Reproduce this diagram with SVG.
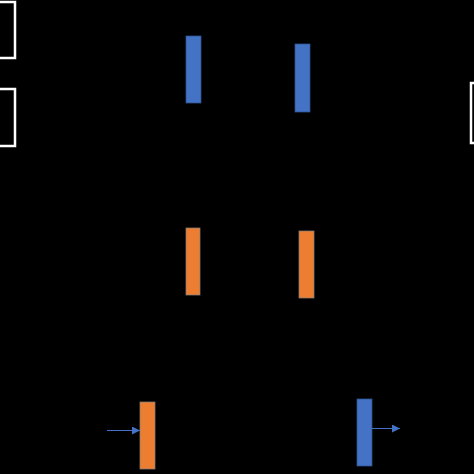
<svg xmlns="http://www.w3.org/2000/svg" width="474" height="474" viewBox="0 0 474 474">
<style>
.blue{fill:#4472C4;stroke:#2F528F;stroke-width:0.75}
.orange{fill:#ED7D31;stroke:#7f7f7f;stroke-width:0.75}
.frame{fill:none;stroke:#ffffff;stroke-width:2.5}
.conn{stroke:#4472C4;stroke-width:1;fill:none}
</style>
<defs>
<marker id="arr" viewBox="0 0 10 10" refX="10" refY="5" markerWidth="8" markerHeight="8" markerUnits="userSpaceOnUse" orient="auto">
<path d="M0,0 L10,5 L0,10 z" fill="#4472C4"/>
</marker>
</defs>
<rect width="474" height="474" fill="#000000"/>
<g id="frame-top-left"><rect class="frame" x="-10" y="2" width="25" height="56"/></g>
<g id="frame-mid-left"><rect class="frame" x="-10" y="89" width="25" height="57"/></g>
<g id="frame-right"><rect class="frame" x="471" y="83" width="20" height="60"/></g>
<g id="blue1"><rect class="blue" x="186" y="36" width="15" height="67"/></g>
<g id="blue2"><rect class="blue" x="295" y="44" width="15" height="68"/></g>
<g id="orange1"><rect class="orange" x="186" y="228" width="14" height="67"/></g>
<g id="orange2"><rect class="orange" x="299" y="231" width="15" height="67"/></g>
<g id="orange3"><rect class="orange" x="140" y="402" width="15" height="67"/></g>
<g id="blue3"><rect class="blue" x="357" y="399" width="15" height="67"/></g>
<g id="connectors">
<line class="conn" x1="107" y1="430.5" x2="140" y2="430.5" marker-end="url(#arr)"/>
<line class="conn" x1="372" y1="428.5" x2="400" y2="428.5" marker-end="url(#arr)"/>
</g>
</svg>
